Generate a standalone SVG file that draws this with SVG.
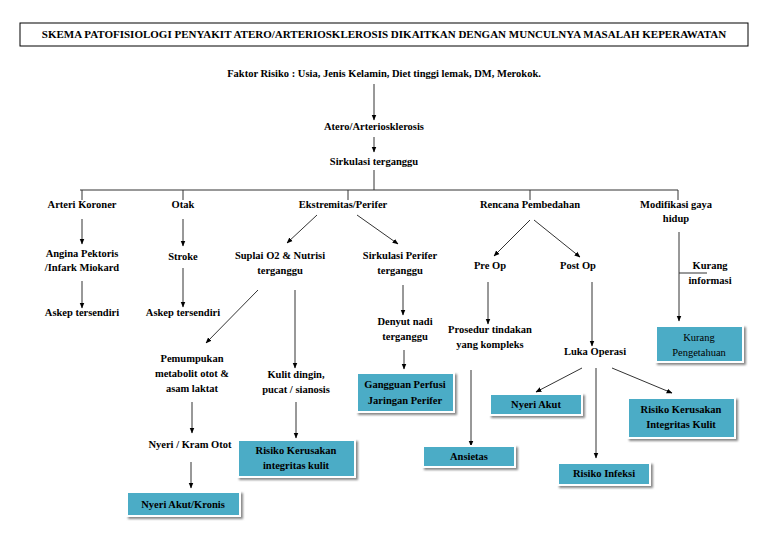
<svg xmlns="http://www.w3.org/2000/svg" width="768" height="543" viewBox="0 0 768 543" font-family="'Liberation Serif', 'Times New Roman', serif">
<defs>
<marker id="ah" viewBox="0 0 10 10" refX="9" refY="5" markerWidth="6" markerHeight="6" orient="auto"><path d="M0,1 L10,5 L0,9 z" fill="#000"/></marker>
<filter id="sh" x="-10%" y="-10%" width="130%" height="140%"><feDropShadow dx="2" dy="2" stdDeviation="0.8" flood-color="#888"/></filter>
</defs>
<style>
text{font-family:'Liberation Serif','Times New Roman',serif;font-size:10.5px;font-weight:bold;text-anchor:middle;fill:#000}
.b{fill:#4bacc6;stroke:#fff;stroke-width:2;filter:url(#sh)}
.ln{stroke:#333;stroke-width:1;fill:none}
.ar{stroke:#333;stroke-width:1;fill:none;marker-end:url(#ah)}
</style>
<rect width="768" height="543" fill="#fff"/>
<g id="title"><rect x="20" y="23" width="728" height="23" fill="#fff" stroke="#000"/><text x="384" y="38" style="font-size:11px">SKEMA PATOFISIOLOGI PENYAKIT ATERO/ARTERIOSKLEROSIS DIKAITKAN DENGAN MUNCULNYA MASALAH KEPERAWATAN</text></g>
<g id="connectors">
<path class="ar" d="M374,84 V120"/>
<path class="ar" d="M374,137 V152"/>
<path class="ln" d="M374,170 V190 M80,190 H678 M82,190 V200 M183,190 V200 M348,190 V200 M530,190 V200 M678,190 V200"/>
<path class="ar" d="M82,219 V244"/><path class="ar" d="M82,281 V308"/>
<path class="ar" d="M183,219 V246"/><path class="ar" d="M183,268 V307"/>
<path class="ar" d="M317,215 L287,243"/><path class="ar" d="M357,215 L398,244"/>
<path class="ar" d="M403,285 V315"/><path class="ar" d="M404,350 V369"/>
<path class="ar" d="M258,290 L206,343"/><path class="ar" d="M192,402 V433"/><path class="ar" d="M191,462 V488"/>
<path class="ar" d="M295,290 V368"/><path class="ar" d="M296,402 V438"/>
<path class="ar" d="M530,220 L494,256"/><path class="ar" d="M534,220 L580,257"/>
<path class="ar" d="M488,282 V324"/><path class="ar" d="M471,370 V446"/>
<path class="ar" d="M592,282 V346"/>
<path class="ar" d="M582,368 L536,392"/><path class="ar" d="M596,368 V458"/><path class="ar" d="M612,368 L672,393"/>
<path class="ar" d="M679,232 V321"/><path class="ln" d="M679,273 H707"/>
</g>
<g id="faktor"><text x="384" y="77">Faktor Risiko : Usia, Jenis Kelamin, Diet tinggi lemak, DM, Merokok.</text></g>
<g id="atero"><text x="374" y="130">Atero/Arteriosklerosis</text></g>
<g id="sirkulasi"><text x="374" y="165">Sirkulasi terganggu</text></g>
<g id="arteri"><text x="82" y="208">Arteri Koroner</text></g>
<g id="otak"><text x="183" y="208">Otak</text></g>
<g id="ekstremitas"><text x="343" y="208">Ekstremitas/Perifer</text></g>
<g id="rencana"><text x="530" y="208">Rencana Pembedahan</text></g>
<g id="modifikasi"><text x="676" y="208">Modifikasi gaya</text><text x="676" y="222">hidup</text></g>
<g id="angina"><text x="82" y="257">Angina Pektoris</text><text x="82" y="271">/Infark Miokard</text></g>
<g id="askep1"><text x="82" y="316">Askep tersendiri</text></g>
<g id="stroke"><text x="183" y="260">Stroke</text></g>
<g id="askep2"><text x="183" y="316">Askep tersendiri</text></g>
<g id="suplai"><text x="280" y="259">Suplai O2 &amp; Nutrisi</text><text x="280" y="274">terganggu</text></g>
<g id="sirkper"><text x="400" y="259">Sirkulasi Perifer</text><text x="400" y="274">terganggu</text></g>
<g id="denyut"><text x="405" y="325">Denyut nadi</text><text x="405" y="340">terganggu</text></g>
<g id="gangguan"><rect class="b" x="357" y="373" width="97" height="39"/><text x="405" y="388">Gangguan Perfusi</text><text x="405" y="404">Jaringan Perifer</text></g>
<g id="pemumpukan"><text x="192" y="362">Pemumpukan</text><text x="192" y="377">metabolit otot &amp;</text><text x="192" y="392">asam laktat</text></g>
<g id="kram"><text x="190" y="448">Nyeri / Kram Otot</text></g>
<g id="nyerikronis"><rect class="b" x="127" y="492" width="113" height="24"/><text x="183" y="508">Nyeri Akut/Kronis</text></g>
<g id="kulit"><text x="296" y="378">Kulit dingin,</text><text x="296" y="393">pucat / sianosis</text></g>
<g id="risikokulit"><rect class="b" x="238" y="440" width="117" height="37"/><text x="296" y="454">Risiko Kerusakan</text><text x="296" y="469">integritas kulit</text></g>
<g id="preop"><text x="490" y="269">Pre Op</text></g>
<g id="postop"><text x="578" y="269">Post Op</text></g>
<g id="prosedur"><text x="490" y="333">Prosedur tindakan</text><text x="490" y="348">yang kompleks</text></g>
<g id="ansietas"><rect class="b" x="423" y="446" width="92" height="21"/><text x="469" y="460">Ansietas</text></g>
<g id="luka"><text x="595" y="355">Luka Operasi</text></g>
<g id="nyeriakut"><rect class="b" x="490" y="394" width="92" height="21"/><text x="536" y="408">Nyeri Akut</text></g>
<g id="infeksi"><rect class="b" x="558" y="463" width="92" height="22"/><text x="604" y="477">Risiko Infeksi</text></g>
<g id="risikointegritas"><rect class="b" x="628" y="398" width="107" height="40"/><text x="681" y="413">Risiko Kerusakan</text><text x="681" y="428">Integritas Kulit</text></g>
<g id="kuranginfo"><text x="710" y="269">Kurang</text><text x="710" y="284">informasi</text></g>
<g id="pengetahuan"><rect class="b" x="656" y="326" width="87" height="36"/><text x="699" y="341" style="font-weight:normal">Kurang</text><text x="699" y="356" style="font-weight:normal">Pengetahuan</text></g>
</svg>
